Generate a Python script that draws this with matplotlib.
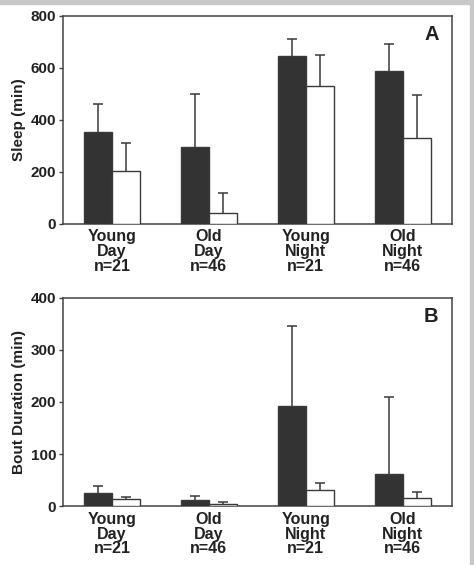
import numpy as np
import matplotlib.pyplot as plt
from matplotlib.patches import Rectangle

plt.rcParams['font.family'] = ['Liberation Sans', 'DejaVu Sans']
plt.rcParams['font.weight'] = 'bold'

# Group labels
groups = ['Young\nDay\nn=21', 'Old\nDay\nn=46', 'Young\nNight\nn=21', 'Old\nNight\nn=46']

# Panel A: sleep (min), mean and upper error bar end
sleep_dark = [352, 297, 645, 587]
sleep_dark_top = [460, 500, 710, 693]
sleep_white = [203, 42, 530, 330]
sleep_white_top = [310, 118, 648, 497]

# Panel B: bout duration (min)
bout_dark = [26, 12, 193, 62]
bout_dark_top = [39, 20, 346, 210]
bout_white = [13, 5, 31, 15]
bout_white_top = [18, 9, 44, 27]

dark = '#333333'
edge = '#3a3a3a'

fig = plt.figure(figsize=(4.74, 5.65), dpi=100)
# grey frame strips from the original scan
fig.patches.append(Rectangle((0, 1 - 4 / 565), 1, 4 / 565, transform=fig.transFigure,
                             color='#c8c8c8', zorder=0))
fig.patches.append(Rectangle((1 - 4 / 474, 0), 4 / 474, 1, transform=fig.transFigure,
                             color='#c8c8c8', zorder=0))

ax1 = fig.add_axes([0.133, 0.604, 0.821, 0.368])
ax2 = fig.add_axes([0.133, 0.104, 0.821, 0.369])


def panel(ax, d, dt, w, wt, ymax, step, ylabel, letter):
    x = np.arange(len(groups))
    bw = 0.29
    cap = 0.05
    ax.bar(x - bw / 2, d, bw, color=dark, edgecolor=edge, linewidth=1, zorder=3)
    ax.bar(x + bw / 2, w, bw, color='white', edgecolor=edge, linewidth=1, zorder=3)
    # upward-only error bars
    for xs, lo, hi in [(x - bw / 2, d, dt), (x + bw / 2, w, wt)]:
        ax.vlines(xs, lo, hi, color=edge, linewidth=1.1, zorder=2)
        ax.hlines(hi, xs - cap, xs + cap, color=edge, linewidth=1.1, zorder=2)
    ax.set_xlim(-0.505, 3.51)
    ax.set_ylim(0, ymax)
    ax.set_yticks(np.arange(0, ymax + 1, step))
    ax.set_xticks(x)
    ax.set_xticklabels(groups, fontsize=11.5, fontweight='bold', color='#222222',
                       linespacing=0.98)
    ax.tick_params(axis='x', length=0, pad=4)
    ax.tick_params(axis='y', length=3, width=1, labelsize=11, colors='#444444',
                   labelcolor='#222222', pad=2)
    for s in ax.spines.values():
        s.set_color('#444444')
        s.set_linewidth(1.1)
    ax.set_ylabel(ylabel, fontsize=11, fontweight='bold', color='#222222', labelpad=3)
    ax.text(0.965, 0.955, letter, transform=ax.transAxes, ha='right', va='top',
            fontsize=14.5, fontweight='bold', color='#222222')


panel(ax1, sleep_dark, sleep_dark_top, sleep_white, sleep_white_top,
      800, 200, 'Sleep (min)', 'A')
panel(ax2, bout_dark, bout_dark_top, bout_white, bout_white_top,
      400, 100, 'Bout Duration (min)', 'B')

fig.savefig('out.png', dpi=100, facecolor='white')
